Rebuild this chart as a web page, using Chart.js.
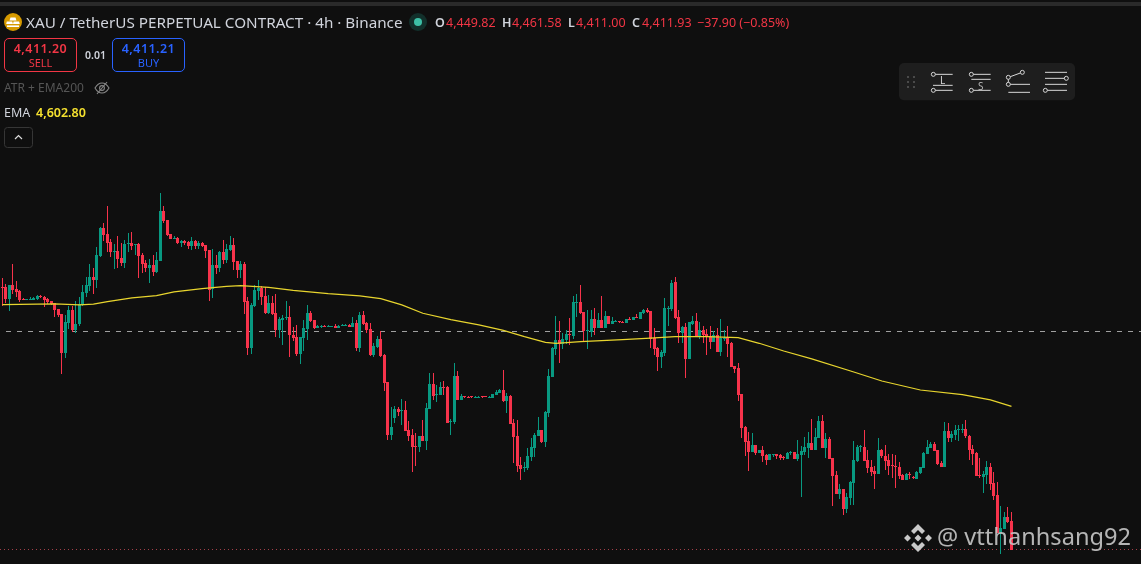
<!DOCTYPE html>
<html>
<head>
<meta charset="utf-8">
<title>XAU / TetherUS</title>
<script src="https://cdn.jsdelivr.net/npm/chart.js@4"></script>
<style>
html, body { margin: 0; padding: 0; background: #0f0f0f; }
#wrap { position: relative; width: 1141px; height: 564px; overflow: hidden; background: #0f0f0f; font-family: "Noto Sans", sans-serif; }
#plot { position: absolute; left: 0; top: 0; }
#topbar { position: absolute; left: 0; top: 2px; width: 1141px; height: 4px; background: #2a2a2a; }
.t { position: absolute; white-space: nowrap; line-height: 1; }
.box { position: absolute; top: 38px; width: 71px; height: 32px; border-radius: 5px; border: 1px solid; text-align: center; }
.box b { display: block; font-size: 12.5px; font-weight: 600; letter-spacing: .45px; margin-top: 3px; line-height: 14px; }
.box span { display: block; font-size: 11px; line-height: 13px; }
svg { position: absolute; }
</style>
</head>
<body>
<div id="wrap">
  <canvas id="plot" width="1141" height="564"></canvas>
  <div id="topbar"></div>

  <svg style="left:4px;top:13px" width="18" height="18" viewBox="0 0 18 18">
    <circle cx="9" cy="9" r="9" fill="#d69a00"/>
    <path d="M6.5 4.5h5l1 3h-7zM2.8 8.6h5.4l.8 2.4H2.2zM9.6 8.6h5.4l.8 2.4H9z" fill="#fff"/>
    <path d="M3 12.4h12v1.6H3z" fill="#fff"/>
  </svg>
  <div class="t" id="title" style="left:26px;top:15px;font-size:15.25px;color:#d1d4dc">XAU / TetherUS PERPETUAL CONTRACT · 4h · Binance</div>
  <svg style="left:409px;top:13px" width="18" height="18" viewBox="0 0 18 18">
    <circle cx="9" cy="9" r="9" fill="#12302b"/>
    <circle cx="9" cy="9" r="4" fill="#3dbfa6"/>
  </svg>
  <div class="t" style="left:435px;top:17px;font-size:12.5px;font-weight:600;color:#d1d4dc">O</div>
  <div class="t" style="left:446px;top:17px;font-size:12.5px;color:#f23645">4,449.82</div>
  <div class="t" style="left:502px;top:17px;font-size:12.5px;font-weight:600;color:#d1d4dc">H</div>
  <div class="t" style="left:512px;top:17px;font-size:12.5px;color:#f23645">4,461.58</div>
  <div class="t" style="left:568px;top:17px;font-size:12.5px;font-weight:600;color:#d1d4dc">L</div>
  <div class="t" style="left:576px;top:17px;font-size:12.5px;color:#f23645">4,411.00</div>
  <div class="t" style="left:632px;top:17px;font-size:12.5px;font-weight:600;color:#d1d4dc">C</div>
  <div class="t" style="left:642px;top:17px;font-size:12.5px;color:#f23645">4,411.93</div>
  <div class="t" style="left:697px;top:17px;font-size:12.5px;color:#f23645">−37.90 (−0.85%)</div>

  <div class="box" style="left:4px;border-color:#f23645;color:#f23645"><b>4,411.20</b><span>SELL</span></div>
  <div class="t" style="left:85px;top:50px;font-size:10.5px;font-weight:600;color:#d1d4dc">0.01</div>
  <div class="box" style="left:112px;border-color:#2962ff;color:#2962ff"><b>4,411.21</b><span>BUY</span></div>

  <div class="t" style="left:4px;top:82px;font-size:12px;color:#555">ATR + EMA200</div>
  <svg style="left:93px;top:80px" width="18" height="16" viewBox="0 0 18 16" fill="none" stroke="#888" stroke-width="1.1">
    <path d="M2 8c2-3.4 4.4-5 7-5s5 1.6 7 5c-2 3.4-4.4 5-7 5s-5-1.6-7-5z"/>
    <circle cx="9" cy="8" r="2.4"/>
    <path d="M14 2 4 14"/>
  </svg>
  <div class="t" style="left:4px;top:107px;font-size:12.5px;color:#d1d4dc">EMA</div>
  <div class="t" style="left:36px;top:107px;font-size:12.5px;font-weight:600;color:#f5e12f">4,602.80</div>
  <svg style="left:4px;top:127px" width="29" height="21" viewBox="0 0 29 21" fill="none">
    <rect x=".5" y=".5" width="28" height="20" rx="3" stroke="#363636"/>
    <path d="M11 12l3.5-3.5L18 12" stroke="#ddd" stroke-width="1.2"/>
  </svg>

  <svg style="left:890px;top:55px" width="200" height="55" viewBox="0 0 600 165" fill="none" stroke="#d8d8d8" stroke-width="3">
    <rect x="27" y="24" width="528" height="112" rx="15" fill="#1e1e1e" stroke="none"/>
    <g fill="#4a4a4a" stroke="none">
      <rect x="51" y="63" width="6" height="6"/><rect x="69" y="63" width="6" height="6"/>
      <rect x="51" y="78" width="6" height="6"/><rect x="69" y="78" width="6" height="6"/>
      <rect x="51" y="93" width="6" height="6"/><rect x="69" y="93" width="6" height="6"/>
    </g>
    <circle cx="130" cy="58" r="6"/><path d="M136 58h52M129 91h59M136 106h52"/><circle cx="130" cy="106" r="6"/>
    <circle cx="244" cy="58" r="6"/><path d="M250 58h52M244 73h58M250 106h52"/><circle cx="244" cy="106" r="6"/>
    <circle cx="355" cy="67" r="6"/><circle cx="397" cy="52" r="6"/><circle cx="355" cy="88" r="6"/>
    <path d="M361 65l30-11M355 73v9M361 88h59M355 112h65"/>
    <path d="M465 52h66M465 70h58M465 88h66M472 106h59"/><circle cx="529" cy="70" r="6"/><circle cx="466" cy="106" r="6"/>
  </svg>
  <div class="t" style="left:940px;top:75px;font-size:10px;color:#d8d8d8">L</div>
  <div class="t" style="left:978px;top:81px;font-size:10px;color:#b5b5b5">S</div>

  <svg style="left:904px;top:524px" width="28" height="28" viewBox="0 0 28 28" fill="#c9c9c9">
    <path d="M14 0l7 7-3 3-4-4-4 4-3-3zM14 28l7-7-3-3-4 4-4-4-3 3zM0 14l3.5-3.5L7 14l-3.5 3.5zM28 14l-3.5-3.5L21 14l3.5 3.5zM14 10.5l3.5 3.5-3.5 3.5-3.5-3.5z"/>
  </svg>
  <div class="t" style="left:937px;top:525px;font-size:23.6px;color:#c4c4c4;opacity:.92">@ vtthanhsang92</div>
</div>

<script>
// candle values
var opens = [
4762,4762,4746,4765,4759,4757,4746,4745,4745,4745,
4746,4750,4749,4746,4743,4741,4733,4726,4674,4714,
4731,4705,4712,4738,4754,4763,4775,4771,4803,4841,
4833,4822,4809,4810,4801,4794,4819,4821,4818,4819,
4805,4794,4787,4791,4782,4797,4863,4851,4833,4826,
4827,4821,4823,4822,4817,4823,4817,4821,4818,4811,
4759,4791,4787,4809,4798,4811,4818,4797,4785,4793,
4743,4681,4737,4757,4761,4750,4727,4741,4727,4705,
4718,4720.5,4722,4698,4695,4673,4694,4706,4727,4718,
4707,4708.6,4710,4709,4708.6,4710,4707.3,4710.4,4710.4,4711.3,
4708.6,4714,4680.6,4724.6,4714,4706,4671.3,4682,4692.6,4671.3,
4635.3,4564.6,4587.3,4599.3,4596.6,4598,4571.3,4564.6,4550,4548.6,
4563.3,4556.6,4599.3,4632.6,4618,4618,4628.6,4628.6,4582,4582,
4643.3,4611.3,4616.2,4615.7,4615.7,4614.4,4614.4,4615.7,4615.7,4614.4,
4614.4,4618,4620.6,4624.6,4610,4616.6,4580.6,4563.3,4524.6,4520.6,
4520.6,4535.3,4547.3,4563.3,4571.3,4555.3,4593.9,4641.9,4679.3,4691.3,
4685.9,4691.3,4699.3,4696.6,4740.6,4741.9,4728.6,4703.3,4701.9,4719.3,
4707.3,4717.9,4707.3,4723.3,4712.6,4715.7,4716.6,4715.7,4713.9,4718.8,
4717.9,4721.9,4719.3,4726.8,4731.3,4729.9,4693.9,4680.6,4668.6,4673.9,
4732.6,4732.6,4768.6,4721.9,4700.6,4708.6,4665.9,4712.6,4716.6,4696.6,
4704.6,4699.3,4696.6,4688.6,4697.9,4675.3,4692.6,4695.3,4687.3,4656.6,
4653.9,4619.3,4575.3,4556.6,4541.9,4551.3,4540.6,4544.6,4537.9,4531.3,
4537.9,4539.3,4537.5,4535.7,4532.6,4540.6,4541.9,4532.6,4537.9,4541.9,
4547.3,4553.9,4544.6,4560.6,4583.3,4547.3,4559.3,4533.9,4511.3,4485.9,
4492.6,4465.9,4480.6,4500.6,4529.9,4548.2,4548.6,4531.3,4521.9,4516.6,
4512.6,4544.6,4536.6,4531.3,4524.2,4523.3,4521.9,4511.7,4504.6,4512.6,
4509,4505.9,4513.9,4520.6,4539.3,4547.3,4552.6,4544.6,4527.3,4521.9,
4569.9,4560.6,4564.6,4571.3,4571.7,4572.6,4563.3,4545.9,4540.6,4511.3,
4508.6,4511.3,4521.9,4500.6,4484.6,4432.6,4439.3,4455.3,4449.82
];
var highs = [
4774,4766,4765,4793,4770,4758,4747,4746,4749,4748,
4751,4751,4750,4747,4743,4741,4733,4726,4725,4737,
4737,4743,4748,4765,4775,4793,4787,4815,4842,4847,
4870,4826,4819,4830,4820,4824,4834,4835,4819,4821,
4807,4798,4799,4804,4809,4887,4870,4851,4833,4830,
4829,4825,4825,4823,4829,4825,4823,4822,4818,4811,
4813,4805,4810,4825,4819,4830,4827,4797,4797,4795,
4749,4741,4765,4771,4763,4762,4751,4750,4753,4722,
4725,4743,4737,4709,4711,4695,4718,4738,4730,4718,
4711,4711,4711,4711,4710,4712.6,4711,4712.2,4712.6,4712.6,
4722,4718,4728.6,4730,4715.3,4714,4687.3,4696.6,4703.3,4672.6,
4635.3,4602,4603.3,4602,4612.6,4610,4583.3,4572.6,4567.3,4563.3,
4584.6,4607.3,4647.3,4647.3,4631.3,4635.3,4636.6,4630,4586,4660.6,
4650,4619.3,4616.6,4616.6,4616.2,4616.6,4616.2,4616.6,4615.7,4616.2,
4619.3,4624.6,4626,4651.3,4620.6,4618,4586,4584.6,4535.3,4528.6,
4547.3,4560.6,4567.3,4588.6,4571.3,4596.6,4652.6,4681.9,4723.3,4716.6,
4700.2,4704.6,4720.6,4749.9,4752.6,4764.6,4728.6,4731.3,4731.3,4733.9,
4727.3,4749.9,4729.9,4723.3,4721.9,4717.9,4716.6,4716.6,4719.3,4721.9,
4721.9,4725.9,4728.6,4732.6,4733.9,4729.9,4707.3,4681.9,4677.9,4747.3,
4736.6,4771.3,4775.3,4731.3,4709.9,4713.9,4715.3,4723.3,4727.3,4715.3,
4709.9,4705.9,4709.9,4703.3,4707.3,4719.3,4704.6,4709.9,4688.6,4656.6,
4660.6,4619.3,4576.6,4568.6,4567.3,4551.3,4544.6,4549.9,4539.3,4539.3,
4539.3,4539.3,4539.3,4536.6,4542.4,4543.3,4541.9,4557.9,4549.9,4561.9,
4568.6,4585.9,4573.9,4589.9,4591.3,4567.3,4561.9,4533.9,4516.6,4499.3,
4492.6,4487.3,4503.3,4556.6,4551.3,4551.3,4571.3,4544.6,4531.3,4523.3,
4560.6,4545.9,4551.3,4539.3,4539.3,4537.9,4528.6,4512.6,4513.9,4515.3,
4509.9,4516.6,4521.9,4541.9,4557.9,4555.3,4555.3,4544.6,4529.9,4581.9,
4580.6,4569.9,4577.9,4577.9,4579.3,4584.6,4564.6,4551.3,4541.9,4533.9,
4516.6,4529.9,4527.3,4515.3,4501.9,4469.9,4461.9,4468.6,4461.58
];
var lows = [
4737,4740,4730,4752,4749,4742,4744.6,4745,4745,4745,
4745,4747,4735,4739,4738,4722,4722,4646,4667,4706,
4702,4700,4710,4736,4749,4756,4753,4761,4802,4823,
4809,4802,4786,4787,4790,4787,4809,4811,4805,4774,
4781,4782,4767,4776,4781,4796,4847,4830,4826,4826,
4819,4815,4818,4812,4811,4813,4813,4815,4801,4743,
4747,4779,4782,4793,4794,4810,4785,4774,4774,4726,
4671,4673,4735,4745,4738,4726,4726,4725,4695,4694,
4685,4718,4669,4690,4670,4659,4677,4691,4715,4706,
4707,4707.7,4708.6,4708.6,4708.6,4707.3,4707.3,4710,4710,4708.6,
4708.6,4676.6,4675.3,4711.3,4700.6,4670,4668.6,4680.6,4668.6,4623.3,
4558,4558,4580.6,4590,4578,4570,4556.6,4515.3,4523.3,4542,
4556.6,4544.6,4599.3,4611.3,4608.6,4618,4618,4580,4564.6,4579.3,
4611.3,4611.3,4614,4614,4614.4,4614,4614.4,4614.4,4614.9,4614.4,
4614.4,4618,4620.6,4608.6,4594,4579.3,4527.3,4515.3,4504.6,4515.3,
4518,4530,4535.3,4563.3,4554,4548.6,4588.6,4641.9,4671.3,4660.6,
4679.3,4685.9,4684.6,4692.6,4721.9,4725.9,4688.6,4679.3,4695.7,4697.9,
4707.3,4707.3,4707.3,4712.6,4712.6,4715.3,4713.9,4713.9,4713.9,4717.9,
4717.9,4720.6,4719.3,4725.9,4727.3,4680.6,4671.3,4649.9,4653.9,4669.9,
4709.9,4729.9,4719.3,4687.3,4687.3,4640.6,4665.9,4711.3,4695.3,4692.6,
4687.3,4671.3,4679.3,4688.6,4675.3,4669.9,4689.5,4668.6,4655.3,4647.3,
4609.9,4560.6,4536.6,4516.6,4541.9,4537.9,4540.6,4528.6,4524.6,4531.3,
4535.7,4532.6,4531.3,4531.3,4532.6,4537.9,4532.6,4529.9,4482.4,4537.9,
4533.5,4544.6,4544.6,4560.2,4547.3,4533.9,4532.6,4469.9,4485.9,4479.3,
4457.9,4460.6,4471.3,4471.7,4528.6,4542.4,4529.9,4513.5,4509.9,4492.6,
4512.6,4533.9,4517.9,4511.3,4506.8,4493.9,4505.9,4504.6,4504.6,4505.9,
4505.9,4505.9,4512.6,4520.2,4539.3,4547.3,4543.3,4524.6,4521.9,4521.9,
4555.3,4555.3,4557.9,4556.6,4566.8,4560.6,4531.3,4524.6,4509.9,4507.7,
4487.3,4499.3,4491.3,4477.9,4433.5,4405.9,4439.3,4446.8,4411
];
var closes = [
4761,4746,4765,4758,4755,4745,4745,4746,4746,4747,
4750,4749,4745,4742,4739,4731,4725,4674,4715,4731,
4705,4713,4739,4755,4765,4775,4771,4805,4841,4831,
4821,4809,4810,4799,4794,4819,4821,4817,4819,4803,
4793,4787,4791,4782,4798,4863,4850,4831,4826,4827,
4821,4823,4821,4817,4823,4817,4821,4817,4810,4758,
4791,4787,4809,4798,4813,4818,4795,4785,4793,4742,
4681,4738,4758,4761,4749,4727,4741,4726,4705,4719,
4721,4721.5,4698,4694,4673,4695,4707,4727,4717,4707,
4710,4710,4708.6,4710,4710,4707.3,4710,4711.3,4711.3,4708.6,
4714,4680.6,4724.6,4712.6,4704.6,4671.3,4683.3,4692.6,4670,4634,
4564.6,4575.3,4599.3,4595.3,4598,4570,4563.3,4548.6,4549,4563.3,
4556.6,4600.6,4632.6,4616.6,4619.3,4628.6,4627.7,4580.6,4583.3,4643.3,
4611.3,4616.6,4615.3,4614.4,4614.9,4615.7,4615.7,4614.9,4614.9,4615.7,
4619.3,4622,4624.6,4610,4616.6,4579.3,4562,4523.3,4519.3,4522,
4536.6,4548.6,4564.6,4571.3,4555.3,4595.3,4643.3,4680.6,4691.3,4685.9,
4692.6,4699.3,4697.9,4741.9,4741.9,4727.3,4703.3,4704.6,4719.3,4707.3,
4717.9,4707.3,4723.3,4712.6,4716.6,4716.6,4715.3,4714.4,4719.3,4717.9,
4721.9,4720.6,4728.6,4731.3,4728.2,4692.6,4679.3,4668.6,4675.3,4733.9,
4733.9,4767.3,4720.6,4700.6,4708.6,4665.9,4715.3,4716.6,4696.6,4704.6,
4697.9,4696.6,4688.6,4697.9,4675.3,4693.9,4693.9,4685.9,4655.3,4652.6,
4617.9,4573.9,4555.3,4541.9,4551.3,4540.6,4544.6,4536.6,4531.3,4539.3,
4538.8,4536.6,4533.9,4533.9,4540.2,4541.9,4532.6,4539.3,4543.3,4548.6,
4553.9,4544.6,4561.9,4583.3,4547.3,4559.3,4532.6,4509.9,4485.9,4492.6,
4465.9,4481.9,4501.9,4531.3,4548.6,4549,4529.9,4520.6,4515.3,4512.6,
4544.6,4536.6,4529.9,4523.3,4522.8,4521.5,4509.9,4504.6,4512.6,4511.3,
4507.7,4515.3,4521.5,4540.6,4548.6,4552.6,4543.3,4525.9,4521.9,4569.9,
4560.6,4565.9,4571.3,4572.2,4572.6,4563.3,4544.6,4539.3,4509.9,4509.9,
4512.6,4521.9,4499.3,4483.3,4433.5,4440.6,4455.3,4448.6,4411.93
];

// EMA200 as read at these candles
var emaAt = [0,15,22,26,30,37,44,49,57,64,68,76,83,93,102,108,114,120,128,136,143,149,155,158,165,177,185,192,201,210,216,223,231,243,251,262,274,282,288];
var emaVal = [4738.3,4739.3,4738,4739,4742.4,4747.3,4750.3,4755.3,4759.7,4762.8,4763.7,4761.5,4757.5,4753,4750,4746.3,4738,4726.9,4718.3,4711.3,4704.2,4695.7,4688.2,4686.9,4689,4691.7,4693.9,4695.7,4695.7,4694.3,4686.9,4676.6,4666,4648.6,4636.6,4624.6,4618.3,4611.3,4602.8];

var lastPrice = 4411.93;
var dashedLevel = 4702.9;
var slots = 325; // empty room right of the last candle

var labels = [];
var emaData = [];
for (var i = 0; i < slots; i++) {
    labels.push(i);
    emaData.push(null);
}
emaAt.forEach(function (c, n) { emaData[c] = emaVal[n]; });

var wicks = opens.map(function (o, i) { return [lows[i], highs[i]]; });
var bodies = opens.map(function (o, i) { return [o, closes[i]]; });
var candleColors = opens.map(function (o, i) { return closes[i] < o ? "#f7334b" : "#089981"; });

// snap candles to whole pixels so they stay crisp, and draw the two price lines
const crispCandles = {
    id: "crispCandles",
    beforeDatasetsDraw(chart) {
        [0, 1].forEach(function (d) {
            chart.getDatasetMeta(d).data.forEach(function (bar) {
                bar.x = Math.floor(bar.x) + 0.5;
                bar.y = Math.round(bar.y);
                bar.base = Math.round(bar.base);
            });
        });
        const ctx = chart.ctx;
        const y = chart.scales.y;
        ctx.save();
        ctx.lineWidth = 1;
        ctx.strokeStyle = "#a0a0a0";
        ctx.setLineDash([5, 6]);
        ctx.beginPath();
        ctx.moveTo(6, Math.floor(y.getPixelForValue(dashedLevel)) + 0.5);
        ctx.lineTo(1141, Math.floor(y.getPixelForValue(dashedLevel)) + 0.5);
        ctx.stroke();
        ctx.strokeStyle = "rgba(242,90,105,0.65)";
        ctx.setLineDash([1, 3]);
        ctx.beginPath();
        ctx.moveTo(0, Math.floor(y.getPixelForValue(lastPrice)) + 0.5);
        ctx.lineTo(1141, Math.floor(y.getPixelForValue(lastPrice)) + 0.5);
        ctx.stroke();
        ctx.restore();
    }
};

const config = {
    type: "bar",
    data: {
        labels: labels,
        datasets: [{
            label: "Wick",
            data: wicks,
            backgroundColor: candleColors,
            barThickness: 1,
            grouped: false,
            inflateAmount: 0,
            minBarLength: 1,
            order: 3
        }, {
            label: "Body",
            data: bodies,
            backgroundColor: candleColors,
            barThickness: 3,
            grouped: false,
            inflateAmount: 0,
            minBarLength: 1,
            order: 2
        }, {
            type: "line",
            label: "EMA",
            data: emaData,
            borderColor: "#e8d52e",
            borderWidth: 1.25,
            pointRadius: 0,
            tension: 0,
            spanGaps: true,
            order: 1
        }]
    },
    options: {
        responsive: false,
        animation: false,
        devicePixelRatio: 1,
        layout: { padding: { left: 0.58, right: 1.62 } },
        plugins: { legend: { display: false }, tooltip: { enabled: false } },
        scales: {
            x: { display: false, offset: true, grid: { display: false } },
            y: { display: false, min: 4392.6, max: 5144.6, grid: { display: false } }
        }
    },
    plugins: [crispCandles]
};

const priceChart = new Chart("plot", config);
</script>
</body>
</html>
